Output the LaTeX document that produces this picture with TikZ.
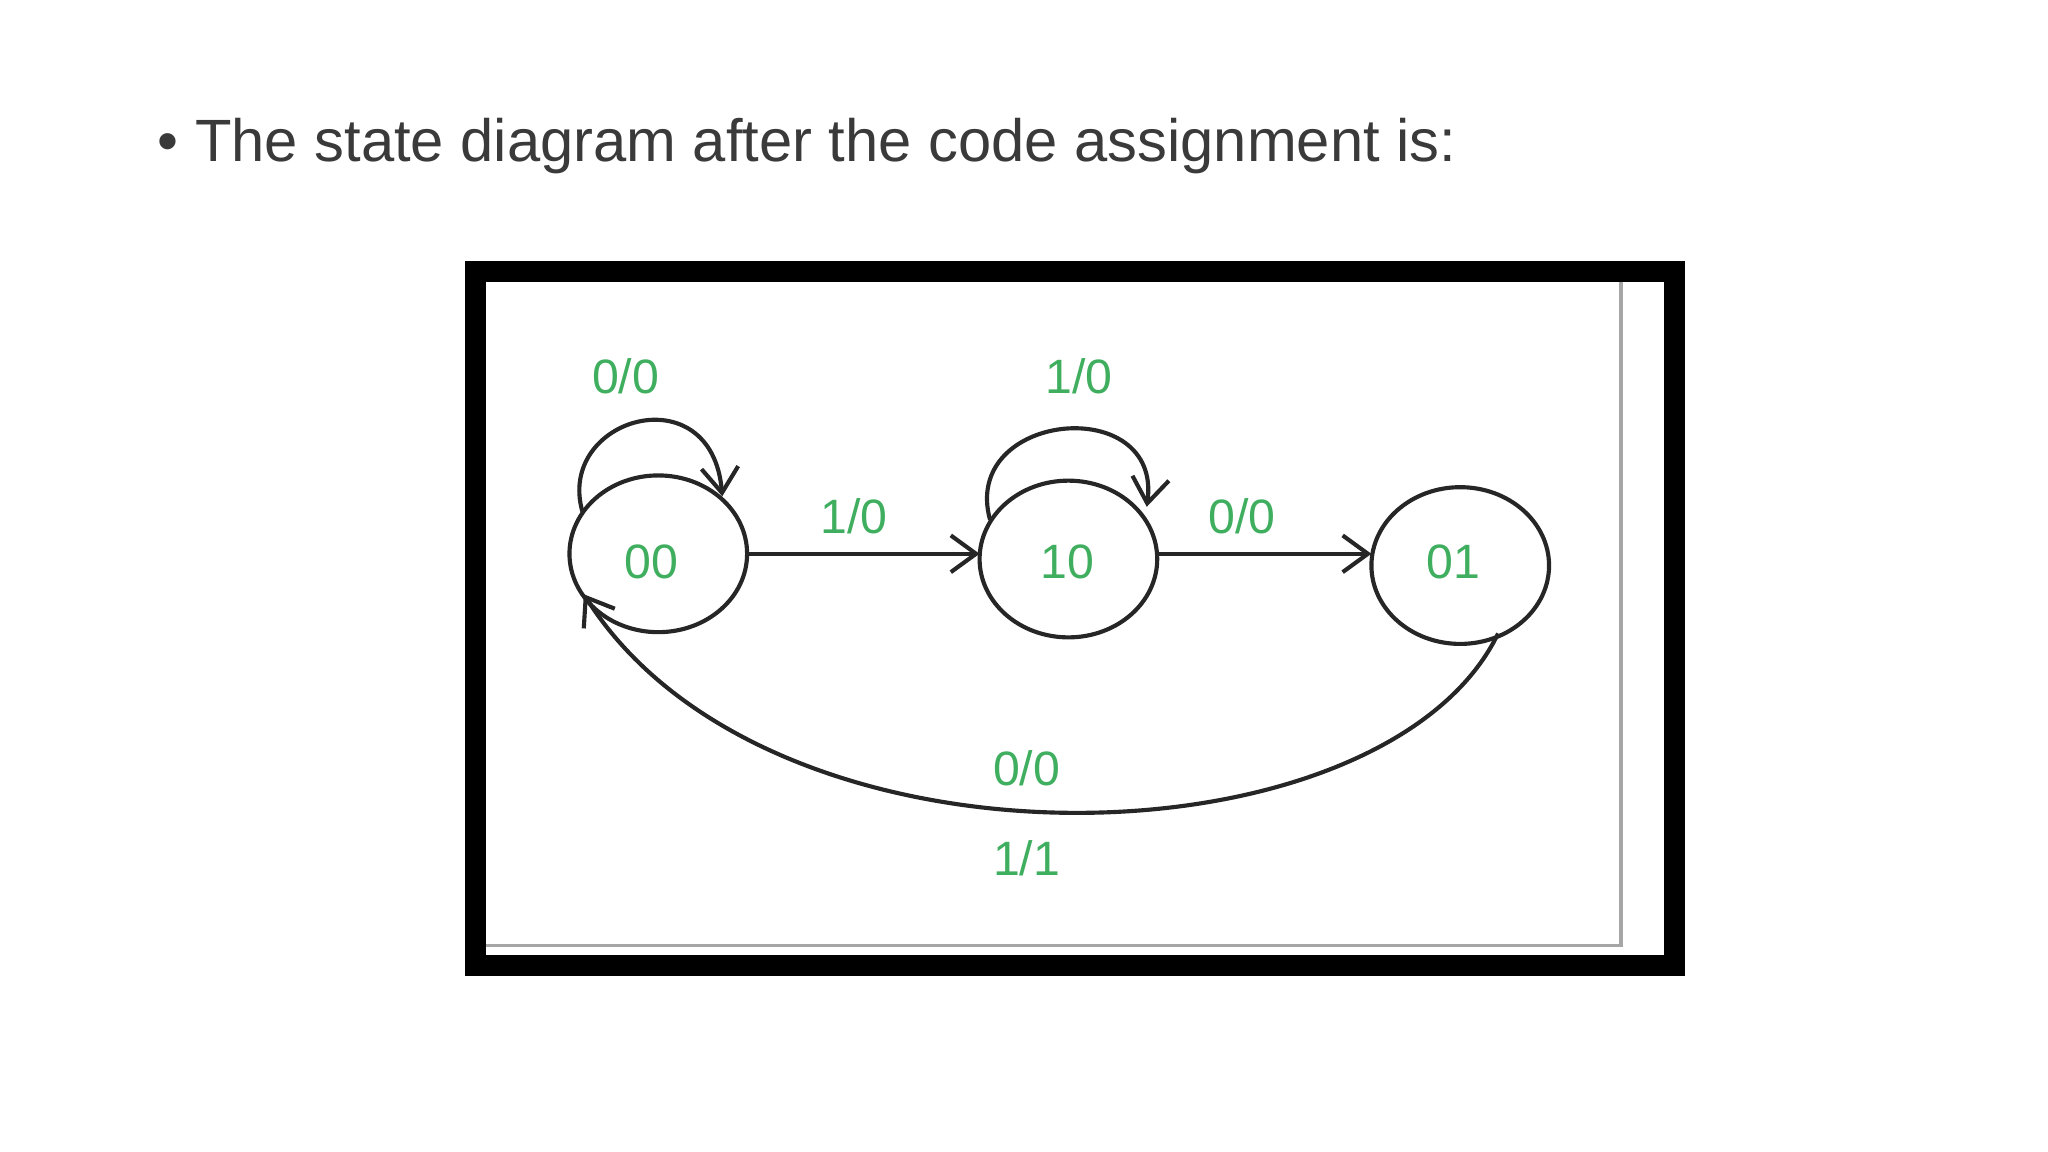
\documentclass[tikz,border=0pt]{standalone}
\usepackage{fontspec}
\setmainfont{Liberation Sans}
\usetikzlibrary{arrows.meta}
\definecolor{lbl}{HTML}{3FAE5F}
\definecolor{txt}{HTML}{3A3A3A}
\begin{document}
\begin{tikzpicture}[x=0.01cm,y=-0.01cm,
  lab/.style={text=lbl,font=\fontsize{10.5pt}{10.5pt}\selectfont},
  ln/.style={draw=black!85,line width=0.9pt},
  arr/.style={ln,-{Straight Barb[length=5.5pt,width=8pt,line width=0.9pt]}}]
\useasboundingbox (0,0) rectangle (1568,882);
\node[text=txt,anchor=base west,font=\fontsize{13pt}{13pt}\selectfont,inner sep=0] (title) at (120,124) {• The state diagram after the code assignment is:};
\draw[line width=0.16cm] (364,208) rectangle (1282,739);
\draw[gray!70,line width=0.7pt] (1241,216) -- (1241,724) -- (372,724);
\draw[ln] (504,424) ellipse [x radius=68,y radius=60];
\draw[ln] (818,428) ellipse [x radius=68,y radius=60];
\draw[ln] (1118,433) ellipse [x radius=68,y radius=60];
\node[lab] (s00) at (499,430) {00};
\node[lab] (s10) at (817,430) {10};
\node[lab] (s01) at (1113,430) {01};
\coordinate (a1) at (572,424); \coordinate (a2) at (750,424);
\coordinate (b1) at (886,424); \coordinate (b2) at (1050,424);
\draw[arr] (a1) -- (a2);
\draw[arr] (b1) -- (b2);
\coordinate (l1) at (446,392); \coordinate (l2) at (553,380);
\draw[arr] (l1) .. controls (425,320) and (545,285) .. (l2);
\coordinate (m1) at (758,398); \coordinate (m2) at (878,388);
\draw[arr] (m1) .. controls (735,315) and (890,300) .. (m2);
\coordinate (c1) at (1147,485); \coordinate (c2) at (447,455);
\draw[arr] (c1) .. controls (1060,665) and (590,680) .. (c2);
\node[lab] (t1) at (479,288) {0/0};
\node[lab] (t2) at (826,288) {1/0};
\node[lab] (t3) at (654,395) {1/0};
\node[lab] (t4) at (951,395) {0/0};
\node[lab] (t5) at (786,588) {0/0};
\node[lab] (t6) at (786,657) {1/1};
\end{tikzpicture}
\end{document}
